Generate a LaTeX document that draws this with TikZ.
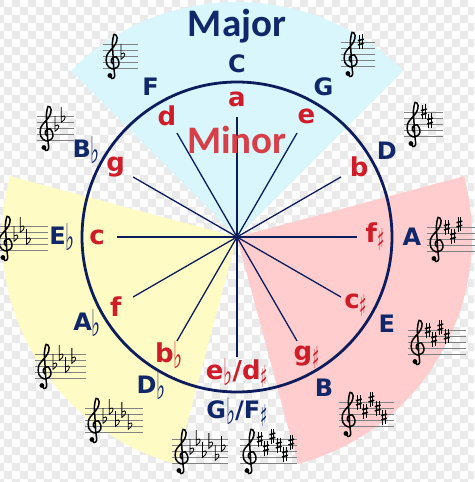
\documentclass[tikz,border=0pt]{standalone}
\usepackage{fontspec}
\usepackage{graphicx}
\setmainfont{DejaVu Sans}
\newfontfamily\titlefont{Carlito}
\newfontfamily\symfont{DejaVu Sans}

\definecolor{majorblue}{RGB}{16,40,105}
\definecolor{minorred}{RGB}{208,28,40}
\definecolor{rimblue}{RGB}{12,28,92}
\definecolor{skycyan}{RGB}{216,246,251}
\definecolor{flatyellow}{RGB}{255,251,196}
\definecolor{sharppink}{RGB}{255,205,205}
\definecolor{checker}{RGB}{234,234,234}
\definecolor{staffgray}{RGB}{130,130,130}

\tikzset{
  major/.style={text=majorblue, font=\bfseries\fontsize{24}{24}\selectfont, inner sep=0pt},
  minor/.style={text=minorred, font=\bfseries\fontsize{26}{26}\selectfont, inner sep=0pt},
  spoke/.style={rimblue, line width=1.3pt},
  rim/.style={rimblue, line width=2.8pt},
  staffline/.style={staffgray, line width=0.8pt},
  clefline/.style={black, line width=1.5pt, line cap=round},
  accline/.style={black, line width=0.8pt},
}

% small flat / sharp after a letter
\newcommand\flatsub{\raisebox{-6pt}{\scalebox{0.6}[1.15]{\symfont\mdseries\fontsize{32}{32}\selectfont ♭}}}
\newcommand\sharpsub{\raisebox{-8pt}{\scalebox{0.5}[1.0]{\symfont\mdseries\fontsize{30}{30}\selectfont ♯}}}

% clef and accidentals, in staff spaces
\newcommand\gclef{%
  \draw[clefline] plot[smooth, tension=0.6] coordinates {(-0.35,-1.3) (0,-1.75) (0.45,-1.4) (0.3,0) (0.15,2.5) (0.05,4.0) (0.35,5.6) (0.85,5.1) (0.6,4.0) (-0.2,3.0) (-0.9,2.0) (-0.85,0.6) (0,-0.15) (0.95,0.2) (1.15,1.0) (0.7,1.85) (0,1.6) (-0.1,1.0) (0.3,0.6)};
  \fill (-0.35,-1.25) circle (0.4);
}
\newcommand\flatsign[2]{%
  \draw[accline] (#1-0.3,#2+2.0) -- (#1-0.3,#2-0.55) .. controls (#1+0.6,#2-0.05) and (#1+0.5,#2+0.9) .. (#1-0.3,#2+0.35);
}
\newcommand\sharpsign[2]{%
  \draw[accline] (#1-0.22,#2-1.25) -- (#1-0.22,#2+1.15) (#1+0.22,#2-1.15) -- (#1+0.22,#2+1.25);
  \draw[accline, line width=1.5pt] (#1-0.48,#2-0.48) -- (#1+0.48,#2-0.22) (#1-0.48,#2+0.22) -- (#1+0.48,#2+0.48);
}
% #1 left, #2 bottom line (picture px), #3 width px, #4 sign, #5 staff positions
\newcommand\keystaff[5]{%
  \begin{scope}[shift={(#1-237,237-#2)}, x=6pt, y=6pt]
    \foreach \s in {0,...,4} \draw[staffline] (0,\s) -- (#3/6,\s);
    \begin{scope}[shift={(1.5,0)}] \gclef \end{scope}
    \foreach \p [count=\k] in {#5} {#4{3.3+1.05*\k-1.05}{\p}}
  \end{scope}
}

\begin{document}
\begin{tikzpicture}[x=1pt, y=1pt]
  \useasboundingbox (-237,-245) rectangle (237,237);
  % background
  \begin{scope}
    \clip (-237,-245) rectangle (237,237);
    \fill[white] (-237,-245) rectangle (237,237);
    \foreach \j in {0,...,61}{
      \pgfmathtruncatemacro\off{8*mod(\j,2)}
      \fill[checker] \foreach \i in {0,16,...,480}{(\i+\off-241,238-8*\j) rectangle ++(8,-8)};
    }
  \end{scope}
  \coordinate (o) at (0,0);
  \fill[skycyan] (o) -- (45:235) arc[start angle=45, end angle=135, radius=235pt] -- cycle;
  \fill[flatyellow] (o) -- (165:235) arc[start angle=165, end angle=255, radius=235pt] -- cycle;
  \fill[sharppink] (o) -- (-75:235) arc[start angle=-75, end angle=15, radius=235pt] -- cycle;

  \foreach \a in {0,30,...,330} {
    \coordinate (s\a) at (\a:120);
    \draw[spoke] (o) -- (s\a);
  }
  \draw[rim] (o) circle (155pt);

  \node[anchor=base, text=majorblue, font=\titlefont\bfseries\fontsize{39}{39}\selectfont] (majortitle) at (0,200) {Major};
  \node[anchor=base, text=minorred!85!white, font=\titlefont\bfseries\fontsize{39}{39}\selectfont] (minortitle) at (0,84) {Minor};

  \path
    (90:173) node[major] (C) {C}
    (60:173) node[major] (G) {G}
    (30:173) node[major] (D) {D}
    (0:175) node[major] (A) {A}
    (-30:173) node[major] (E) {E}
    (-60:174) node[major] (B) {B}
    (-90:175) node[major] (GbFs) {G\flatsub/F\sharpsub}
    (-120:172) node[major] (Db) {D\flatsub}
    (-150:173) node[major] (Ab) {A\flatsub}
    (180:175) node[major] (Eb) {E\flatsub}
    (150:174) node[major] (Bb) {B\flatsub}
    (120:173) node[major] (F) {F};
  \path
    (90:138) node[minor] (am) {a}
    (60:139) node[minor] (em) {e}
    (30:141) node[minor] (bm) {b}
    (0:138) node[minor] (fsm) {f\sharpsub}
    (-30:137) node[minor] (csm) {c\sharpsub}
    (-60:139) node[minor] (gsm) {g\sharpsub}
    (-90:136) node[minor] (ebm) {e\flatsub/d\sharpsub}
    (-120:136) node[minor] (bbm) {b\flatsub}
    (-150:140) node[minor] (fm) {f}
    (180:140) node[minor] (cm) {c}
    (150:140) node[minor] (gm) {g}
    (120:140) node[minor] (dm) {d};

  \keystaff{103}{68}{35}{\flatsign}{2}
  \keystaff{341}{66}{34}{\sharpsign}{4}
  \keystaff{404}{136}{39}{\sharpsign}{4,2.5}
  \keystaff{427}{251}{48}{\sharpsign}{4,2.5,4.5}
  \keystaff{408}{354}{58}{\sharpsign}{4,2.5,4.5,3}
  \keystaff{339}{426}{55}{\sharpsign}{4,2.5,4.5,3,1.5}
  \keystaff{240}{463}{57}{\sharpsign}{4,2.5,4.5,3,1.5,3.5}
  \keystaff{172}{463}{56}{\flatsign}{2,3.5,1.5,3,1,2.5}
  \keystaff{85}{432}{58}{\flatsign}{2,3.5,1.5,3,1}
  \keystaff{35}{378}{51}{\flatsign}{2,3.5,1.5,3}
  \keystaff{-4}{250}{52}{\flatsign}{2,3.5,1.5}
  \keystaff{37}{140}{37}{\flatsign}{2,3.5}
\end{tikzpicture}
\end{document}
